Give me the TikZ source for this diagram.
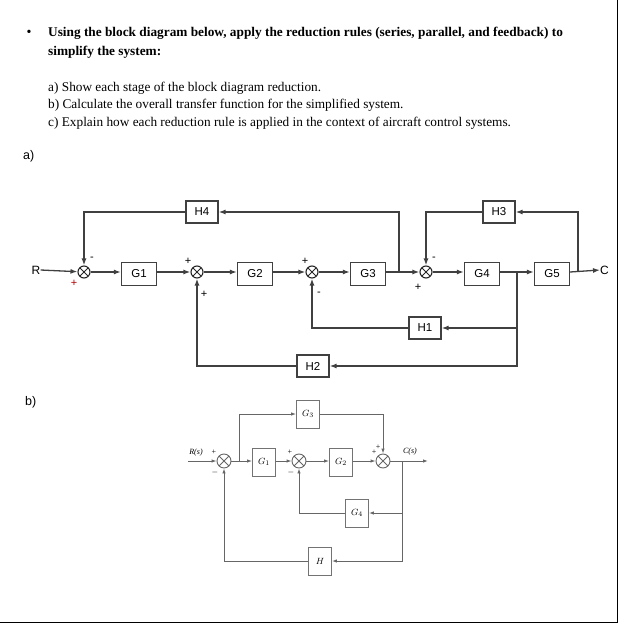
\documentclass[tikz,border=0pt]{standalone}
\usepackage{fontspec}
\setmainfont{Liberation Serif}
\newfontfamily\sans{Liberation Sans}
\usetikzlibrary{arrows.meta}
\begin{document}
\begin{tikzpicture}[x=1pt,y=-1pt,
  blk/.style={draw=black!75,line width=1.2pt,fill=white,minimum width=35pt,minimum height=23pt,inner sep=0pt,font=\sans\fontsize{11.5}{12}\selectfont},
  sum/.style={circle,draw=black!85,line width=1.1pt,minimum size=12pt,inner sep=0pt,path picture={\draw[line width=1pt] (path picture bounding box.north west)--(path picture bounding box.south east) (path picture bounding box.north east)--(path picture bounding box.south west);}},
  ln/.style={draw=black!75,line width=1.3pt},
  ar/.style={ln,-{Latex[length=7pt,width=5pt]}},
  sg/.style={font=\sans\fontsize{11}{11}\selectfont,inner sep=0pt},
  bblk/.style={draw=black!55,line width=0.9pt,fill=white,minimum width=23pt,minimum height=28pt,inner sep=0pt,font=\fontsize{9.5}{9.5}\selectfont\itshape},
  bsum/.style={sum,minimum size=14pt,draw=black!60,line width=0.9pt},
  bln/.style={draw=black!60,line width=0.9pt},
  bar/.style={bln,-{Latex[length=5pt,width=3.5pt]}},
  bsg/.style={font=\fontsize{8}{8}\selectfont,inner sep=0pt}]
\useasboundingbox (0,0) rectangle (621,636);
\draw[line width=1pt] (617,0)--(617,622)--(0,622);
% header
\node[font=\fontsize{14}{14}\selectfont] (bul) at (29,33) {\textbullet};
\node[anchor=west,font=\bfseries\fontsize{13.3}{14}\selectfont,inner sep=0pt] (t1) at (48,33) {Using the block diagram below, apply the reduction rules (series, parallel, and feedback) to};
\node[anchor=west,font=\bfseries\fontsize{13.3}{14}\selectfont,inner sep=0pt] (t2) at (48,52) {simplify the system:};
\node[anchor=west,font=\fontsize{13.3}{14}\selectfont,inner sep=0pt] (t3) at (48,88) {a) Show each stage of the block diagram reduction.};
\node[anchor=west,font=\fontsize{13.3}{14}\selectfont,inner sep=0pt] (t4) at (48,105) {b) Calculate the overall transfer function for the simplified system.};
\node[anchor=west,font=\fontsize{13.3}{14}\selectfont,inner sep=0pt] (t5) at (48,123) {c) Explain how each reduction rule is applied in the context of aircraft control systems.};
\node[anchor=west,font=\sans\fontsize{12.5}{13}\selectfont,inner sep=0pt] (la) at (23,156) {a)};
\node[anchor=west,font=\sans\fontsize{12.5}{13}\selectfont,inner sep=0pt] (lb) at (25,402) {b)};
% diagram a
\node[sg,font=\sans\fontsize{12}{12}\selectfont] (R) at (36,270) {R};
\node[sum] (s1) at (84,272) {};
\node[blk] (G1) at (139,274) {G1};
\node[sum] (s2) at (197,272) {};
\node[blk] (G2) at (255,274) {G2};
\node[sum] (s3) at (312,272) {};
\node[blk] (G3) at (368,274) {G3};
\node[sum] (s4) at (426,272) {};
\node[blk] (G4) at (482,274) {G4};
\node[blk] (G5) at (552,274) {G5};
\node[sg,font=\sans\fontsize{12}{12}\selectfont,anchor=west] (C) at (600,270) {C};
\node[blk,minimum width=32pt,minimum height=22pt] (H4) at (202,212) {H4};
\node[blk,minimum width=32pt,minimum height=22pt] (H3) at (499,212) {H3};
\node[blk,minimum width=32pt,minimum height=22pt] (H1) at (425,328) {H1};
\node[blk,minimum width=32pt,minimum height=22pt] (H2) at (313,366) {H2};
\coordinate (o3) at (399,272);
\coordinate (o4) at (517,272);
\coordinate (o5) at (578,272);
\draw[ar] (R.east)--(s1);
\draw[ar] (s1)--(G1.west|-s1);
\draw[ar] (G1.east|-s1)--(s2);
\draw[ar] (s2)--(G2.west|-s2);
\draw[ar] (G2.east|-s2)--(s3);
\draw[ar] (s3)--(G3.west|-s3);
\draw[ar] (G3.east|-s3)--(s4);
\draw[ar] (s4)--(G4.west|-s4);
\draw[ar] (G4.east|-s4)--(G5.west|-s4);
\draw[ar] (G5.east|-s4)--(C.west);
\draw[ar] (o3)--(o3|-H4)--(H4.east);
\draw[ar] (H4.west)--(s1|-H4)--(s1);
\draw[ar] (o5)--(o5|-H3)--(H3.east);
\draw[ar] (H3.west)--(s4|-H3)--(s4);
\draw[ar] (o4)--(o4|-H1)--(H1.east);
\draw[ar] (o4|-H1)--(o4|-H2)--(H2.east);
\draw[ar] (H1.west)--(s3|-H1)--(s3);
\draw[ar] (H2.west)--(s2|-H2)--(s2);
\node[sg] (p1a) at (92,259) {-};
\node[sg,text=red!70!black] (p1b) at (74,283) {+};
\node[sg] (p2a) at (188,261) {+};
\node[sg] (p2b) at (204,294) {+};
\node[sg] (p3a) at (305,261) {+};
\node[sg] (p3b) at (319,294) {-};
\node[sg] (p4a) at (434,259) {-};
\node[sg] (p4b) at (418,287) {+};
% diagram b
\node[bsg,font=\fontsize{8}{8}\selectfont\itshape] (Rs) at (196,453) {R(s)};
\node[bsum] (b1) at (224,461) {};
\node[bblk] (bG1) at (264,462) {$G_1$};
\node[bsum] (b2) at (299,461) {};
\node[bblk] (bG2) at (341,462) {$G_2$};
\node[bsum] (b3) at (383,461) {};
\node[bblk] (bG3) at (308,414) {$G_3$};
\node[bblk] (bG4) at (357,513) {$G_4$};
\node[bblk] (bH) at (320,561) {$H$};
\node[bsg,font=\fontsize{8}{8}\selectfont\itshape] (Cs) at (410,452) {C(s)};
\coordinate (bin) at (188,461);
\coordinate (bout) at (428,461);
\coordinate (bt1) at (239,461);
\coordinate (bt2) at (402,461);
\draw[bar] (bin)--(b1);
\draw[bar] (b1)--(bG1.west|-b1);
\draw[bar] (bG1.east|-b1)--(b2);
\draw[bar] (b2)--(bG2.west|-b2);
\draw[bar] (bG2.east|-b2)--(b3);
\draw[bar] (b3)--(bout);
\draw[bar] (bt1)--(bt1|-bG3)--(bG3.west);
\draw[bar] (bG3.east)--(b3|-bG3)--(b3);
\draw[bar] (bt2)--(bt2|-bG4)--(bG4.east);
\draw[bar] (bt2|-bG4)--(bt2|-bH)--(bH.east);
\draw[bar] (bG4.west)--(b2|-bG4)--(b2);
\draw[bar] (bH.west)--(b1|-bH)--(b1);
\node[bsg] (q1a) at (214,452) {+};
\node[bsg] (q1b) at (215,472) {$-$};
\node[bsg] (q2a) at (290,452) {+};
\node[bsg] (q2b) at (291,472) {$-$};
\node[bsg] (q3a) at (374,452) {+};
\node[bsg] (q3b) at (378,447) {+};
\end{tikzpicture}
\end{document}
